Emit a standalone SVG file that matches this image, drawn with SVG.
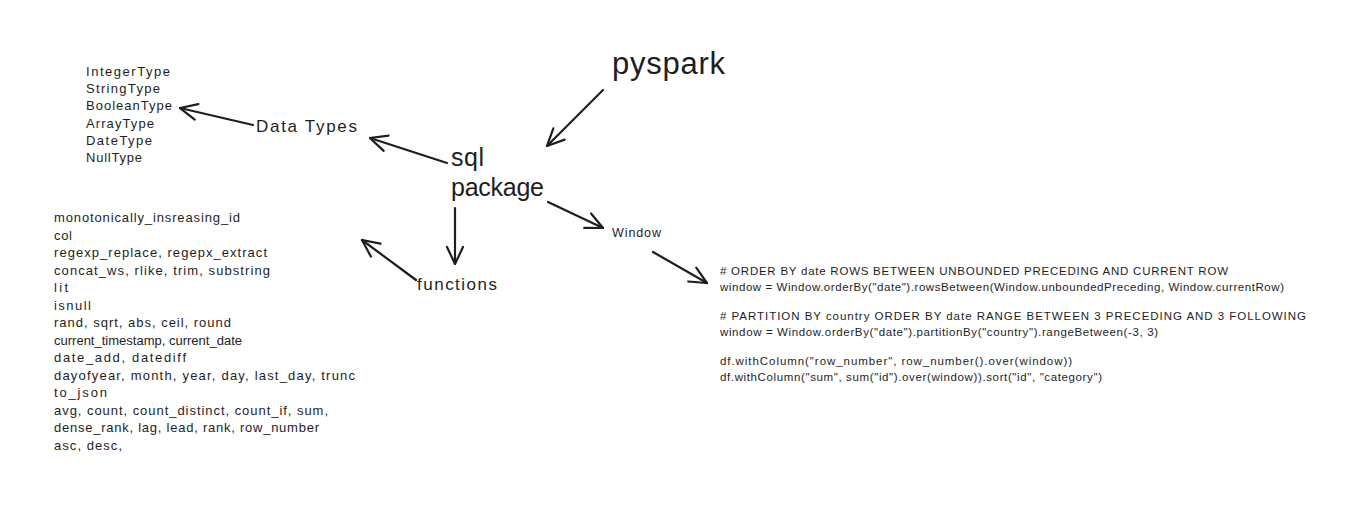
<svg xmlns="http://www.w3.org/2000/svg" width="1358" height="513" viewBox="0 0 1358 513">
<style>
text{font-family:"Liberation Sans",Arial,sans-serif;fill:#1e1e1e}
.l{font-size:13px}
.c{font-size:11.5px}
.n{font-size:17px}
line{stroke:#1e1e1e;stroke-width:2.2;fill:none;stroke-linecap:round}
</style>
<defs>
<marker id="a" viewBox="0 0 20 20" refX="19" refY="10" markerWidth="20" markerHeight="20" markerUnits="userSpaceOnUse" orient="auto">
<path d="M2,2 L19,10 L2,18" fill="none" stroke="#1e1e1e" stroke-width="2.2" stroke-linecap="round"/>
</marker>
</defs>
<rect width="1358" height="513" fill="#fff"/>
<g id="connectors">
<line x1="603" y1="90" x2="547" y2="146" marker-end="url(#a)"/>
<line x1="447" y1="163" x2="370" y2="138" marker-end="url(#a)"/>
<line x1="253" y1="125" x2="180" y2="108" marker-end="url(#a)"/>
<line x1="455" y1="208" x2="455" y2="264" marker-end="url(#a)"/>
<line x1="416" y1="280" x2="362" y2="240" marker-end="url(#a)"/>
<line x1="548" y1="202" x2="603" y2="228" marker-end="url(#a)"/>
<line x1="653" y1="252" x2="707" y2="283" marker-end="url(#a)"/>
</g>
<g id="pyspark"><text x="612" y="74" font-size="31" textLength="113">pyspark</text></g>
<g id="sql"><text x="451" y="166" font-size="25" textLength="33">sql</text><text x="451" y="196" font-size="25" textLength="93">package</text></g>
<g id="datatypes"><text class="n" x="256" y="132" textLength="101">Data Types</text></g>
<g id="types">
<text class="l" x="86" y="76" textLength="84">IntegerType</text>
<text class="l" x="86" y="93" textLength="74">StringType</text>
<text class="l" x="86" y="110" textLength="86">BooleanType</text>
<text class="l" x="86" y="128" textLength="68">ArrayType</text>
<text class="l" x="86" y="145" textLength="66">DateType</text>
<text class="l" x="86" y="162" textLength="56">NullType</text>
</g>
<g id="functions"><text class="n" x="417" y="290" textLength="80">functions</text></g>
<g id="funclist">
<text class="l" x="54" y="222" textLength="186">monotonically_insreasing_id</text>
<text class="l" x="54" y="240" textLength="18">col</text>
<text class="l" x="54" y="257" textLength="213">regexp_replace, regepx_extract</text>
<text class="l" x="54" y="275" textLength="216">concat_ws, rlike, trim, substring</text>
<text class="l" x="54" y="292" textLength="14">lit</text>
<text class="l" x="54" y="310" textLength="37">isnull</text>
<text class="l" x="54" y="327" textLength="177">rand, sqrt, abs, ceil, round</text>
<text class="l" x="54" y="345" textLength="188">current_timestamp, current_date</text>
<text class="l" x="54" y="362" textLength="132">date_add, datediff</text>
<text class="l" x="54" y="380" textLength="301">dayofyear, month, year, day, last_day, trunc</text>
<text class="l" x="54" y="397" textLength="53">to_json</text>
<text class="l" x="54" y="415" textLength="274">avg, count, count_distinct, count_if, sum,</text>
<text class="l" x="54" y="432" textLength="265">dense_rank, lag, lead, rank, row_number</text>
<text class="l" x="54" y="450" textLength="68">asc, desc,</text>
</g>
<g id="window"><text x="612" y="237" font-size="12.5" textLength="49">Window</text></g>
<g id="code">
<text class="c" x="720" y="275" textLength="508"># ORDER BY date ROWS BETWEEN UNBOUNDED PRECEDING AND CURRENT ROW</text>
<text class="c" x="720" y="291" textLength="564">window = Window.orderBy("date").rowsBetween(Window.unboundedPreceding, Window.currentRow)</text>
<text class="c" x="720" y="320" textLength="586"># PARTITION BY country ORDER BY date RANGE BETWEEN 3 PRECEDING AND 3 FOLLOWING</text>
<text class="c" x="720" y="336" textLength="438">window = Window.orderBy("date").partitionBy("country").rangeBetween(-3, 3)</text>
<text class="c" x="720" y="365" textLength="352">df.withColumn("row_number", row_number().over(window))</text>
<text class="c" x="720" y="381" textLength="382">df.withColumn("sum", sum("id").over(window)).sort("id", "category")</text>
</g>
</svg>
